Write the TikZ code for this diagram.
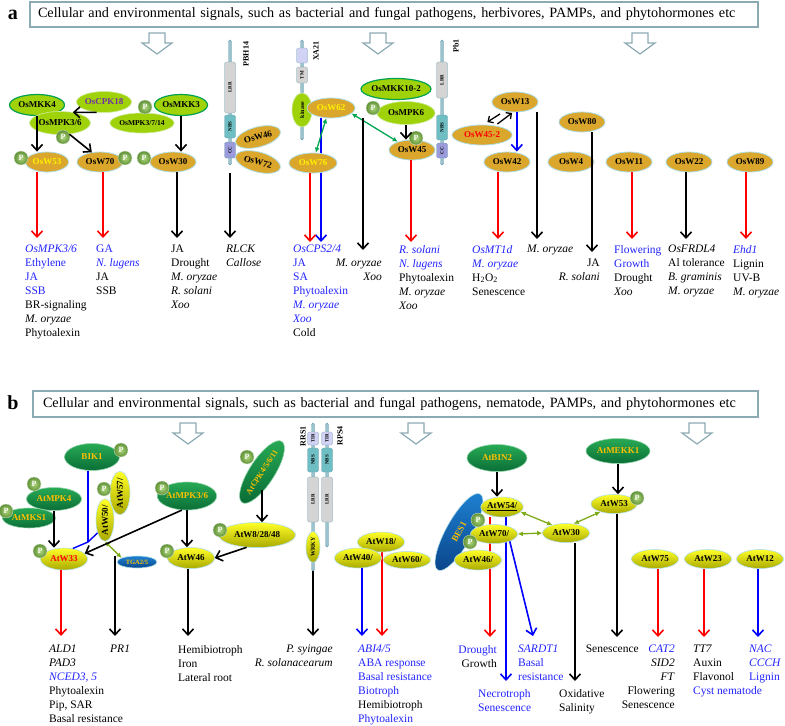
\documentclass[tikz,border=0pt]{standalone}
\usepackage{fontspec}
\setmainfont{Liberation Serif}
\usetikzlibrary{shapes.geometric,arrows.meta,backgrounds,calc}

\definecolor{osgold}{RGB}{218,166,44}
\definecolor{cyanbd}{RGB}{175,222,232}
\definecolor{ygreen}{RGB}{160,210,10}
\definecolor{mkkbd}{RGB}{0,160,80}
\definecolor{lgbd}{RGB}{205,235,160}
\definecolor{cpkpurple}{RGB}{112,48,160}
\definecolor{atgold}{RGB}{255,192,0}
\definecolor{dgtop}{RGB}{40,170,85}
\definecolor{dgbot}{RGB}{10,110,55}
\definecolor{ytop}{RGB}{255,255,40}
\definecolor{ybot}{RGB}{170,170,0}
\definecolor{btop}{RGB}{30,130,210}
\definecolor{bbot}{RGB}{10,70,140}
\definecolor{pin}{RGB}{175,215,125}
\definecolor{pout}{RGB}{95,145,55}
\definecolor{boxbd}{RGB}{140,170,180}
\definecolor{kgreen}{RGB}{0,165,80}
\definecolor{olivegr}{RGB}{125,170,25}
\definecolor{txtblue}{RGB}{35,35,255}
\definecolor{stalkc}{RGB}{155,195,205}
\definecolor{stalkbd}{RGB}{110,160,175}
\definecolor{lrrgray}{RGB}{212,212,212}
\definecolor{nbsteal}{RGB}{110,190,195}
\definecolor{cclav}{RGB}{155,155,220}
\definecolor{tirlav}{RGB}{210,210,245}

\newcommand{\blu}[1]{\textcolor{txtblue}{#1}}
\newcommand{\blit}[1]{\textcolor{txtblue}{\textit{#1}}}

\begin{document}
\begin{tikzpicture}[x=1pt,y=-1pt,
  nfont/.style={font=\bfseries\fontsize{9}{10}\selectfont},
  osw/.style={ellipse, draw=cyanbd, line width=0.8pt, fill=osgold, minimum width=46pt, minimum height=20pt, inner sep=0pt, nfont},
  osk/.style={ellipse, draw=mkkbd, line width=1.2pt, fill=ygreen, minimum width=55pt, minimum height=21pt, inner sep=0pt, nfont},
  osp/.style={osk, draw=lgbd, line width=0.6pt},
  atg/.style={ellipse, draw=dgtop!50!white, line width=0.6pt, top color=dgtop, bottom color=dgbot, text=atgold, inner sep=0pt, nfont},
  aty/.style={ellipse, draw=cyanbd, line width=0.6pt, top color=ytop, bottom color=ybot, minimum width=47pt, minimum height=20pt, inner sep=0pt, nfont},
  atb/.style={ellipse, draw=cyanbd, line width=0.6pt, top color=btop, bottom color=bbot, text=atgold, inner sep=0pt, nfont},
  phos/.style={circle, inner color=pin, outer color=pout, draw=white!70!pout, line width=0.4pt, minimum size=14pt, inner sep=0pt, text=white, font=\bfseries\fontsize{8}{8}\selectfont},
  lbl/.style={align=left, anchor=north west, inner sep=0pt, font=\fontsize{11.5}{14}\selectfont},
  lblr/.style={lbl, align=right, anchor=north east},
  barr/.style={line width=1.6pt, -{Straight Barb[length=6pt,width=11pt]}},
  rarr/.style={barr, red},
  blarr/.style={barr, blue},
  garr/.style={kgreen, line width=1.3pt, {Latex[length=5pt,width=5pt]}-{Latex[length=5pt,width=5pt]}},
  oarr/.style={garr, olivegr},
  dom/.style={rounded corners=1.5pt, draw=stalkbd, line width=0.3pt, inner sep=0pt, rotate=90, minimum height=11pt, font=\bfseries\fontsize{5}{5}\selectfont},
  stalkst/.style={fill=stalkc, draw=stalkbd, line width=0.4pt, rounded corners=1.5pt},
  reclab/.style={rotate=90, inner sep=0pt, font=\bfseries\fontsize{8}{8}\selectfont},
  sigbox/.style={draw=boxbd, line width=1.2pt, fill=white, inner ysep=0pt, align=left, font=\fontsize{14.2}{16}\selectfont},
  hollow/.style={draw=boxbd, line width=1.2pt, fill=white},
  panel/.style={font=\bfseries\fontsize{20}{20}\selectfont, inner sep=0pt}]
\useasboundingbox (0,0) rectangle (785,726);

% ---------- panel a ----------
\node[panel] (la) at (13,15) {a};
\node[sigbox, inner xsep=8pt, text width=712pt, minimum height=25pt] (siga) at (394,14.5) {Cellular and environmental signals, such as bacterial and fungal pathogens, herbivores, PAMPs, and phytohormones etc};
\foreach \cx/\cy in {157/33,378/33,640/33,188/423,416/423,697/423}
  \draw[hollow] (\cx-8,\cy) -- (\cx+8,\cy) -- (\cx+8,\cy+10) -- (\cx+15,\cy+10) -- (\cx,\cy+21) -- (\cx-15,\cy+10) -- (\cx-8,\cy+10) -- cycle;

% receptors
\draw[stalkst] (228.5,40) rectangle (231.5,165);
\node[dom, fill=lrrgray, minimum width=51pt] (pbhlrr) at (230,87.5) {LRR};
\node[dom, fill=nbsteal, minimum width=23pt] (pbhnbs) at (230,126.5) {NBS};
\node[dom, fill=cclav, minimum width=16pt] (pbhcc) at (230,150) {CC};
\node[reclab] (pbhlab) at (246,54) {PBH14};
\coordinate (pbhb) at (230,173);

\draw[stalkst] (300.5,40) rectangle (303.5,140);
\node[dom, fill=tirlav, minimum width=15pt] (xatop) at (302,55.5) {};
\node[dom, fill=lrrgray, minimum width=16pt] (xatm) at (302,75) {TM};
\node[reclab] (xalab) at (316,51) {XA21};

\draw[stalkst] (440.5,40) rectangle (443.5,165);
\node[dom, fill=lrrgray, minimum width=36pt] (pblrr) at (442,80) {LRR};
\node[dom, fill=nbsteal, minimum width=25pt] (pbnbs) at (442,127.5) {NBS};
\node[dom, fill=cclav, minimum width=15pt] (pbcc) at (442,150.5) {CC};
\node[reclab] (pblab) at (456,46) {Pb1};

% proteins
\node[osk] (mkk4) at (37,105) {OsMKK4};
\node[osp, text=cpkpurple] (cpk18) at (104,102) {OsCPK18};
\node[osp, minimum width=50pt, minimum height=23pt] (mpk36) at (60,123) {OsMPK3/6};
\node[osw, minimum width=43pt, text=yellow] (w53) at (47,162) {OsW53};
\node[osw] (w70) at (100,162) {OsW70};
\node[osk, minimum width=50pt] (mkk3) at (181,105) {OsMKK3};
\node[osp, minimum width=52pt, minimum height=20pt, font=\bfseries\fontsize{7.5}{8}\selectfont] (mpk3714) at (142,123) {OsMPK3/7/14};
\node[osw] (w30) at (173,162) {OsW30};
\node[osw, rotate=15] (w46) at (258,137) {OsW46};
\node[osw, rotate=-15] (w72) at (258,162) {OsW72};
\node[osp, rotate=90, minimum width=34pt, minimum height=20pt, font=\bfseries\fontsize{6}{6}\selectfont] (kin) at (302,110) {kinase};
\node[osw, text=yellow, minimum width=48pt] (w62) at (331,108) {OsW62};
\node[osw, text=yellow, minimum width=48pt] (w76) at (313,163) {OsW76};
\node[osk] (mkk102) at (396,89) {OsMKK10-2};
\node[osp, minimum width=58pt, minimum height=23pt] (mpk6) at (406,113) {OsMPK6};
\node[osw] (w45) at (412,150) {OsW45};
\node[osw] (w13) at (515,102) {OsW13};
\node[osw, text=red, minimum width=60pt] (w452) at (482,135) {OsW45-2};
\node[osw] (w42) at (507,162) {OsW42};
\node[osw] (w80) at (582,122) {OsW80};
\node[osw] (w4) at (571,162) {OsW4};
\node[osw] (w11) at (629,162) {OsW11};
\node[osw] (w22) at (689,162) {OsW22};
\node[osw] (w89) at (750,162) {OsW89};
\foreach \px/\py [count=\i] in {63/137,21/158,125/158,145/107,144/158,373/108,416/138}
  \node[phos] (pa\i) at (\px,\py) {P};

% arrow ends
\coordinate (e53) at (37,238);
\coordinate (e70) at (103,238);
\coordinate (e30) at (177,238);
\coordinate (epbh) at (230,238);
\coordinate (e76) at (310,242);
\coordinate (e62b) at (321,242);
\coordinate (e62k) at (363,250);
\coordinate (e45) at (411,242);
\coordinate (e42) at (498,239);
\coordinate (e13) at (537,239);
\coordinate (e80) at (592,252);
\coordinate (e11) at (632,239);
\coordinate (e22) at (686,239);
\coordinate (e89) at (746,239);

\begin{scope}[on background layer]
\draw[line width=1.6pt] (mkk4.-20) -- (mpk36.center);
\draw[blarr] (w62.south -| e62b) -- (e62b);
\end{scope}
\draw[barr] (mkk4.south) -- (mkk4.south |- w53.north);
\draw[barr] (cpk18.235) -- (mpk36.40);
\draw[barr] (mpk36.-50) -- (w70.130);
\draw[barr] (mkk3.south) -- (mkk3.south |- w30.north);
\draw[barr] (mpk6.south) -- (mpk6.south |- w45.north);
\draw[garr] (w76.75) -- (w62.245);
\draw[garr] (w62.-15) -- (w45.150);
\draw[blarr] (w13.-80) -- (w13.-80 |- w42.north);
\draw[line width=1.3pt, -{Straight Barb[length=4pt,width=8pt]}] ($(w13.235)+(-8,2)$) -- ($(w452.50)+(-3,-3)$);
\draw[line width=1.3pt, -{Straight Barb[length=4pt,width=8pt]}] ($(w452.50)+(7,-1)$) -- ($(w13.235)+(4,1)$);

\draw[rarr] (w53.south -| e53) -- (e53);
\draw[rarr] (w70.south -| e70) -- (e70);
\draw[barr] (w30.south -| e30) -- (e30);
\draw[barr] (pbhb) -- (epbh);
\draw[rarr] (w76.south -| e76) -- (e76);
\draw[barr] (w62.south -| e62k) -- (e62k);
\draw[rarr] (w45.south -| e45) -- (e45);
\draw[rarr] (w42.south -| e42) -- (e42);
\draw[barr] (w13.south -| e13) -- (e13);
\draw[barr] (w80.south -| e80) -- (e80);
\draw[rarr] (w11.south -| e11) -- (e11);
\draw[barr] (w22.south -| e22) -- (e22);
\draw[rarr] (w89.south -| e89) -- (e89);

% outputs
\node[lbl] (t53) at (25,245) {\blit{OsMPK3/6}\\ \blu{Ethylene}\\ \blu{JA}\\ \blu{SSB}\\ BR-signaling\\ \textit{M. oryzae}\\ Phytoalexin};
\node[lbl] (t70) at (96,245) {\blu{GA}\\ \blit{N. lugens}\\ JA\\ SSB};
\node[lbl] (t30) at (171,245) {JA\\ Drought\\ \textit{M. oryzae}\\ \textit{R. solani}\\ \textit{Xoo}};
\node[lbl] (tpbh) at (226,245) {\textit{RLCK}\\ \textit{Callose}};
\node[lbl] (t76) at (293,245) {\blit{OsCPS2/4}\\ \blu{JA}\\ \blu{SA}\\ \blu{Phytoalexin}\\ \blit{M. oryzae}\\ \blit{Xoo}\\ Cold};
\node[lblr] (t62) at (382,259) {\textit{M. oryzae}\\ \textit{Xoo}};
\node[lbl] (t45) at (399,245) {\blit{R. solani}\\ \blit{N. lugens}\\ Phytoalexin\\ \textit{M. oryzae}\\ \textit{Xoo}};
\node[lbl] (t42) at (472,245) {\blit{OsMT1d}\\ \blit{M. oryzae}\\ H\textsubscript{2}O\textsubscript{2}\\ Senescence};
\node[lbl] (t13) at (527,245) {\textit{M. oryzae}};
\node[lblr] (t80) at (600,259) {JA\\ \textit{R. solani}};
\node[lbl] (t11) at (614,245) {\blu{Flowering}\\ \blu{Growth}\\ Drought\\ \textit{Xoo}};
\node[lbl] (t22) at (668,245) {\textit{OsFRDL4}\\ Al tolerance\\ \textit{B. graminis}\\ \textit{M. oryzae}};
\node[lbl] (t89) at (733,245) {\blit{Ehd1}\\ Lignin\\ UV-B\\ \textit{M. oryzae}};

% ---------- panel b ----------
\node[panel] (lb) at (13,403) {b};
\node[sigbox, inner xsep=10pt, text width=705pt, minimum height=26pt] (sigb) at (395.5,404) {Cellular and environmental signals, such as bacterial and fungal pathogens, nematode, PAMPs, and phytohormones etc};

% receptors
\draw[stalkst] (311.5,423) rectangle (314.5,571);
\draw[stalkst] (325.5,423) rectangle (328.5,547);
\foreach \rx/\nm in {313/rrs,327/rps} {
  \node[dom, fill=tirlav, minimum width=13pt] (\nm tir) at (\rx,438.5) {TIR};
  \node[dom, fill=nbsteal, minimum width=24pt] (\nm nbs) at (\rx,460) {NBS};
  \node[dom, fill=lrrgray, minimum width=45pt] (\nm lrr) at (\rx,499.5) {LRR};
}
\node[reclab] (rrslab) at (303,436) {RRS1};
\node[reclab] (rpslab) at (340,436) {RPS4};
\node[aty, rotate=90, minimum width=31pt, minimum height=14pt, font=\bfseries\fontsize{6}{6}\selectfont] (wrky) at (313,547) {WRKY};

% proteins
\node[atg, minimum width=55pt, minimum height=27pt] (bik1) at (92,457) {BIK1};
\node[atg, minimum width=55pt, minimum height=23pt] (mpk4) at (54,499) {AtMPK4};
\node[atg, minimum width=53pt, minimum height=20pt] (mks1) at (29,518) {AtMKS1};
\node[aty, minimum height=22pt, text=red] (at33) at (64,559) {AtW33};
\node[aty, rotate=90, minimum width=43pt, minimum height=20pt] (at57) at (120,493) {AtW57/};
\node[aty, rotate=90, minimum width=40pt, minimum height=18pt] (at50) at (105,520) {AtW50/};
\node[atb, minimum width=40pt, minimum height=12pt, font=\bfseries\fontsize{6.5}{7}\selectfont] (tga) at (137,562) {TGA2/5};
\node[atg, minimum width=58pt, minimum height=28pt] (atmpk36) at (187,496) {AtMPK3/6};
\node[aty, minimum height=21pt] (at46) at (191,558) {AtW46};
\node[atg, rotate=57, minimum width=72pt, minimum height=25pt, font=\bfseries\fontsize{8}{8}\selectfont] (cpk) at (262,472) {AtCPK4/5/6/11};
\node[aty, minimum width=77pt, minimum height=25pt] (at828) at (257,535) {AtW8/28/48};
\node[aty] (at18) at (381,542) {AtW18/};
\node[aty] (at40) at (358,558) {AtW40/};
\node[aty, minimum height=17pt] (at60) at (407,560) {AtW60/};
\node[atg, minimum width=60pt, minimum height=27pt] (bin2) at (497,458) {AtBIN2};
\node[atb, rotate=61, minimum width=87pt, minimum height=26pt] (bes1) at (459,532) {BES1};
\node[aty, minimum width=42pt] (at54) at (502,507) {\underline{AtW54/}};
\node[aty, minimum height=19pt] (at70) at (494,534) {AtW70/};
\node[aty] (at46s) at (478,560) {AtW46/};
\node[aty, minimum height=19pt] (at30) at (566,533) {AtW30};
\node[atg, minimum width=64pt, minimum height=25pt] (mekk1) at (618,451) {AtMEKK1};
\node[aty, minimum width=46pt, minimum height=19pt] (at53) at (614,504) {AtW53};
\node[aty, minimum height=19pt] (at75) at (655,559) {AtW75};
\node[aty, minimum height=19pt] (at23) at (708,559) {AtW23};
\node[aty, minimum height=19pt] (at12) at (760,559) {AtW12};
\foreach \px/\py [count=\i] in {121/450,34/484,6/511,40/551,104/489,162/488,247/457,220/530,167/551,478/520,470/542,637/498}
  \node[phos] (pb\i) at (\px,\py) {P};

% arrow ends
\coordinate (jct) at (88,542);
\coordinate (e33) at (61,636);
\coordinate (epr1) at (115,636);
\coordinate (e46) at (188,636);
\coordinate (errs) at (313,636);
\coordinate (e40) at (362,636);
\coordinate (e18) at (382,636);
\coordinate (e54r) at (490,637);
\coordinate (e54b) at (506,681);
\coordinate (e70b) at (533,636);
\coordinate (e30b) at (575,681);
\coordinate (e53b) at (617,637);
\coordinate (e75) at (658,637);
\coordinate (e23) at (704,637);
\coordinate (e12) at (758,637);

\begin{scope}[on background layer]
\draw[barr] (wrky.west) -- (errs);
\draw[rarr] (at18.south -| e18) -- (e18);
\draw[rarr] (at54.south -| e54r) -- (e54r);
\draw[blarr] (at54.south -| e54b) -- (e54b);
\end{scope}
\draw[barr] (mpk4.south) -- (mpk4.south |- at33.north);
\draw[blue, line width=1.4pt] (bik1.south -| jct) -- (jct);
\draw[blue, line width=1.4pt] (at33.50) -- (jct) -- (at50.150);
\draw[oarr] (at50.west) -- (tga.165);
\draw[barr] (tga.north -| epr1) -- (epr1);
\draw[barr] (atmpk36.250) -- (at33.15);
\draw[barr] (atmpk36.south) -- (atmpk36.south |- at46.north);
\draw[barr] ([yshift=-18pt]cpk.center) -- (cpk.center |- at828.north);
\draw[barr] (at828.-130) -- (at46.east);
\draw[barr] (bin2.south) -- (bin2.south |- at54.north);
\draw[oarr] (at54.-15) -- (at30.150);
\draw[oarr] (at70.east) -- (at30.west);
\draw[oarr] (at30.50) -- (at53.-150);
\draw[barr] (mekk1.south) -- (mekk1.south |- at53.north);

\draw[rarr] (at33.south -| e33) -- (e33);
\draw[barr] (at46.south -| e46) -- (e46);
\draw[blarr] (at40.south -| e40) -- (e40);
\draw[blarr] (at70.-25) -- (e70b);
\draw[barr] (at30.south -| e30b) -- (e30b);
\draw[barr] (at53.south -| e53b) -- (e53b);
\draw[rarr] (at75.south -| e75) -- (e75);
\draw[rarr] (at23.south -| e23) -- (e23);
\draw[blarr] (at12.south -| e12) -- (e12);

% outputs
\node[lbl] (t33) at (49,645) {\textit{ALD1}\\ \textit{PAD3}\\ \blit{NCED3, 5}\\ Phytoalexin\\ Pip, SAR\\ Basal resistance};
\node[lbl] (tpr1) at (110,645) {\textit{PR1}};
\node[lbl] (t46) at (178,645) {Hemibiotroph\\ Iron\\ Lateral root};
\node[lblr] (trrs) at (333,645) {\textit{P. syingae}\\ \textit{R. solanacearum}};
\node[lbl] (t40) at (358,645) {\blit{ABI4/5}\\ \blu{ABA response}\\ \blu{Basal resistance}\\ \blu{Biotroph}\\ Hemibiotroph\\ \blu{Phytoalexin}};
\node[lblr] (t46s) at (497,645) {\blu{Drought}\\ Growth};
\node[lbl] (t54) at (478,689) {\blu{Necrotroph}\\ \blu{Senescence}};
\node[lbl] (t70) at (518,645) {\blit{SARDT1}\\ \blu{Basal}\\ \blu{resistance}};
\node[lbl] (t30b) at (559,689) {Oxidative\\ Salinity};
\node[lblr] (t53b) at (639,645) {Senescence};
\node[lblr] (t75) at (675,645) {\blit{CAT2}\\ \textit{SID2}\\ \textit{FT}\\ Flowering\\ Senescence};
\node[lbl] (t23) at (693,645) {\textit{TT7}\\ Auxin\\ Flavonol\\ \blu{Cyst nematode}};
\node[lbl] (t12) at (749,645) {\blit{NAC}\\ \blit{CCCH}\\ \blu{Lignin}};
\end{tikzpicture}
\end{document}
